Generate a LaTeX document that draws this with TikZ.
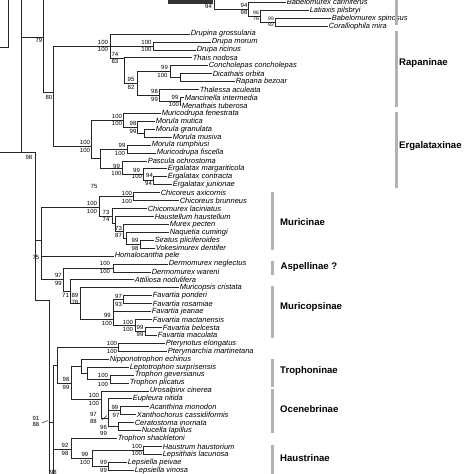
\documentclass[tikz,border=0pt]{standalone}
\usepackage{fontspec}
\setmainfont{Liberation Sans}
\begin{document}
\begin{tikzpicture}[x=1pt,y=-1pt,
  br/.style={draw=black!85,line width=0.75pt},
  tip/.style={anchor=west,inner sep=0.6pt,font=\fontsize{7.5}{8}\selectfont\itshape},
  bs/.style={inner sep=0pt,font=\fontsize{6}{6}\selectfont},
  cbar/.style={fill=black!30,draw=none},
  clade/.style={anchor=west,inner sep=0pt,font=\fontsize{9.6}{10}\selectfont\bfseries}]
\useasboundingbox (0,0) rectangle (474,474);
\fill[white] (0,0) rectangle (474,474);
% ---------- tips ----------
\node[tip] (bcar) at (286,2.2) {Babelomurex cariniferus};
\node[tip] (lpil) at (309,10.2) {Latiaxis pilsbryi};
\node[tip] (bspi) at (331,18.1) {Babelomurex spinosus};
\node[tip] (cmir) at (328,26.1) {Coralliophila mira};
\node[tip] (dgro) at (190,34.0) {Drupina grossularia};
\node[tip] (dmor) at (211,41.9) {Drupa morum};
\node[tip] (dric) at (196,49.9) {Drupa ricinus};
\node[tip] (tnod) at (192,57.8) {Thais nodosa};
\node[tip] (ccon) at (208,65.7) {Concholepas concholepas};
\node[tip] (dorb) at (212,73.7) {Dicathais orbita};
\node[tip] (rbez) at (235,81.6) {Rapana bezoar};
\node[tip] (tacu) at (199,89.5) {Thalessa aculeata};
\node[tip] (mint) at (184,97.4) {Mancinella intermedia};
\node[tip] (mtub) at (181,105.4) {Menathais tuberosa};
\node[tip] (mfen) at (161,113.3) {Muricodrupa fenestrata};
\node[tip] (mmut) at (155,121.2) {Morula mutica};
\node[tip] (mgra) at (155,129.2) {Morula granulata};
\node[tip] (mmus) at (172,137.1) {Morula musiva};
\node[tip] (mrum) at (151,145.0) {Morula rumphiusi};
\node[tip] (mfis) at (156,153.0) {Muricodrupa fiscella};
\node[tip] (poch) at (147,160.9) {Pascula ochrostoma};
\node[tip] (emar) at (167,168.8) {Ergalatax margariticola};
\node[tip] (econ) at (167,176.7) {Ergalatax contracta};
\node[tip] (ejun) at (172,184.7) {Ergalatax junionae};
\node[tip] (caxi) at (160,192.6) {Chicoreus axicornis};
\node[tip] (cbru) at (179,200.5) {Chicoreus brunneus};
\node[tip] (clac) at (147,208.5) {Chicomurex laciniatus};
\node[tip] (hhau) at (154,216.4) {Haustellum haustellum};
\node[tip] (mpec) at (169,224.3) {Murex pecten};
\node[tip] (ncum) at (169,232.3) {Naquetia cumingi};
\node[tip] (spli) at (154,240.2) {Siratus pliciferoides};
\node[tip] (vden) at (155,248.1) {Vokesimurex dentifer};
\node[tip] (hpel) at (114,256.0) {Homalocantha pele};
\node[tip] (dneg) at (168,264.0) {Dermomurex neglectus};
\node[tip] (dwar) at (151,271.9) {Dermomurex wareni};
\node[tip] (anod) at (134,279.8) {Attiliosa nodulifera};
\node[tip] (mcri) at (179,287.8) {Muricopsis cristata};
\node[tip] (fpon) at (152,295.7) {Favartia ponderi};
\node[tip] (fros) at (152,303.6) {Favartia rosamiae};
\node[tip] (fjea) at (151,311.6) {Favartia jeanae};
\node[tip] (fmac) at (152,319.5) {Favartia mactanensis};
\node[tip] (fbel) at (162,327.4) {Favartia belcesta};
\node[tip] (fmcl) at (157,335.3) {Favartia maculata};
\node[tip] (pelo) at (165,343.3) {Pterynotus elongatus};
\node[tip] (pmar) at (167,351.2) {Pterymarchia martinetana};
\node[tip] (nech) at (109,359.1) {Nipponotrophon echinus};
\node[tip] (lsur) at (129,367.1) {Leptotrophon surprisensis};
\node[tip] (tgev) at (134,375.0) {Trophon geversianus};
\node[tip] (tpli) at (129,382.9) {Trophon plicatus};
\node[tip] (ucin) at (149,390.9) {Urosalpinx cinerea};
\node[tip] (enit) at (132,398.8) {Eupleura nitida};
\node[tip] (amon) at (149,406.7) {Acanthina monodon};
\node[tip] (xcas) at (136,414.6) {Xanthochorus cassidiformis};
\node[tip] (cino) at (134,422.6) {Ceratostoma inornata};
\node[tip] (nlap) at (141,430.5) {Nucella lapillus};
\node[tip] (tsha) at (117,438.4) {Trophon shackletoni};
\node[tip] (hhst) at (162,446.4) {Haustrum haustorium};
\node[tip] (llac) at (162,454.3) {Lepsithais lacunosa};
\node[tip] (lpei) at (127,462.2) {Lepsiella peivae};
\node[tip] (lvin) at (134,470.2) {Lepsiella vinosa};
% ---------- Coralliophilinae (cut) ----------
\fill[black!80] (168,0) rectangle (213,3.5);
\coordinate (k248) at (248,9);
\coordinate (k260) at (260,16);
\coordinate (k275) at (275,22);
\draw[br] (214,0) |- (k248);
\draw[br] (k248) |- (bcar.west) (k248) |- (k260);
\draw[br] (k260) |- (lpil.west) (k260) |- (k275);
\draw[br] (k275) |- (bspi.west) (k275) |- (cmir.west);
% ---------- Rapaninae ----------
\coordinate (k110) at (110,46);
\coordinate (k153) at (153,46);
\coordinate (k124) at (124,58);
\coordinate (k137) at (137,83);
\coordinate (k170) at (170,71);
\coordinate (k180a) at (180,77.6);
\coordinate (k159) at (159,95);
\coordinate (k180b) at (180,101.4);
\draw[br] (k110) |- (dgro.west) (k110) -- (k153) (k110) |- (k124);
\draw[br] (k153) |- (dmor.west) (k153) |- (dric.west);
\draw[br] (k124) |- (tnod.west) (k124) |- (k137);
\draw[br] (k137) |- (k170) (k137) |- (k159);
\draw[br] (k170) |- (ccon.west) (k170) |- (k180a);
\draw[br] (k180a) |- (dorb.west) (k180a) |- (rbez.west);
\draw[br] (k159) |- (tacu.west) (k159) |- (k180b);
\draw[br] (k180b) |- (mint.west) (k180b) |- (mtub.west);
% ---------- Ergalataxinae ----------
\coordinate (k53) at (53,92);
\coordinate (k91) at (91,146);
\coordinate (k123) at (123,120);
\coordinate (k137e) at (137,127);
\coordinate (k144) at (144,133);
\coordinate (k100) at (100,158);
\coordinate (k127) at (127,149);
\coordinate (k122) at (122,168);
\coordinate (k143) at (143,174);
\coordinate (k153e) at (153,180.7);
\draw[br] (k53) |- (k110) (k53) |- (k91);
\draw[br] (k91) |- (k123) (k91) |- (k100);
\draw[br] (k123) |- (mfen.west) (k123) |- (k137e);
\draw[br] (k137e) |- (mmut.west) (k137e) |- (k144);
\draw[br] (k144) |- (mgra.west) (k144) |- (mmus.west);
\draw[br] (k100) |- (k127) (k100) |- (k122);
\draw[br] (k127) |- (mrum.west) (k127) |- (mfis.west);
\draw[br] (k122) |- (poch.west) (k122) |- (k143);
\draw[br] (k143) |- (emar.west) (k143) |- (k153e);
\draw[br] (k153e) |- (econ.west) (k153e) |- (ejun.west);
% ---------- Muricinae ----------
\coordinate (k99) at (99,207);
\coordinate (k133) at (133,196.5);
\coordinate (k112) at (112,216);
\coordinate (k115) at (115,223.7);
\coordinate (k123m) at (123,231);
\coordinate (k126) at (126,238);
\coordinate (k140) at (140,244);
\draw[br] (k99) |- (k133) (k99) |- (k112);
\draw[br] (k133) |- (caxi.west) (k133) |- (cbru.west);
\draw[br] (k112) |- (clac.west) (k112) |- (k115);
\draw[br] (k115) |- (hhau.west) (k115) |- (k123m);
\draw[br] (k123m) |- (mpec.west) (k123m) |- (k126);
\draw[br] (k126) |- (ncum.west) (k126) |- (k140);
\draw[br] (k140) |- (spli.west) (k140) |- (vden.west);
% ---------- Aspellinae / Muricopsinae ----------
\coordinate (k63) at (63,279);
\coordinate (k113d) at (113,268);
\coordinate (k70) at (70,291);
\coordinate (k80) at (80,303);
\coordinate (k113f) at (113,319);
\coordinate (k123f) at (123,299.7);
\coordinate (k135) at (135,325);
\coordinate (k145) at (145,331.4);
\draw[br] (k63) |- (k113d) (k63) |- (k70);
\draw[br] (k113d) |- (dneg.west) (k113d) |- (dwar.west);
\draw[br] (k70) |- (anod.west) (k70) |- (k80);
\draw[br] (k80) |- (mcri.west) (k80) |- (k113f);
\draw[br] (k113f) |- (k123f) (k113f) |- (fjea.west) (k113f) |- (k135);
\draw[br] (k123f) |- (fpon.west) (k123f) |- (fros.west);
\draw[br] (k135) |- (fmac.west) (k135) |- (k145);
\draw[br] (k145) |- (fbel.west) (k145) |- (fmcl.west);
% ---------- Pterynotus / Trophoninae / Ocenebrinae ----------
\coordinate (k57) at (57,365);
\coordinate (k118) at (118,347.3);
\coordinate (k71) at (71,383);
\coordinate (k81) at (81,366);
\coordinate (k87) at (87,373);
\coordinate (k110t) at (110,379);
\coordinate (k101) at (101,399);
\coordinate (k108) at (108,418);
\coordinate (k120) at (120,410.7);
\coordinate (k118c) at (118,426.6);
\draw[br] (k57) |- (k118) (k57) |- (k71);
\draw[br] (k118) |- (pelo.west) (k118) |- (pmar.west);
\draw[br] (k71) |- (k81) (k71) |- (k101);
\draw[br] (k81) |- (nech.west) (k81) |- (k87);
\draw[br] (k87) |- (lsur.west) (k87) |- (k110t);
\draw[br] (k110t) |- (tgev.west) (k110t) |- (tpli.west);
\draw[br] (k101) |- (ucin.west) (k101) |- (k108);
\draw[br] (k108) |- (enit.west) (k108) |- (k120) (k108) |- (k118c);
\draw[br] (k120) |- (amon.west) (k120) |- (xcas.west);
\draw[br] (k118c) |- (cino.west) (k118c) |- (nlap.west);
% ---------- Haustrinae ----------
\coordinate (k71h) at (71,449);
\coordinate (k92) at (92,458);
\coordinate (k143h) at (143,450.3);
\coordinate (k108h) at (108,466.2);
\draw[br] (k71h) |- (tsha.west) (k71h) |- (k92);
\draw[br] (k92) |- (k143h) (k92) |- (k108h);
\draw[br] (k143h) |- (hhst.west) (k143h) |- (llac.west);
\draw[br] (k108h) |- (lpei.west) (k108h) |- (lvin.west);
% ---------- backbone (left) ----------
\coordinate (k43) at (43,37);
\coordinate (k41) at (41,240);
\draw[br] (8,0) -- (8,47) -- (0,47);
\draw[br] (21,0) -- (21,152);
\draw[br] (0,152) -- (35,152) -- (35,300);
\draw[br] (21,37) -- (k43);
\draw[br] (43,0) -- (43,92) -- (k53);
\draw[br] (35,240) -- (k41);
\draw[br] (k41) |- (k99) (k41) |- (hpel.west) (k41) |- (k63);
\draw[br] (35,300) -- (49,300) -- (49,474);
\draw[br] (49,422) -- (53,422);
\draw[br] (53,365) -- (53,474);
\draw[br] (53,365) -- (k57);
\draw[br] (53,449) -- (k71h);
% ---------- support values ----------
\node[bs] at (39,40) {79};
\node[bs] at (49,97) {80};
\node[bs] at (29,157) {98};
\node[bs] at (36,257) {75};
\node[bs] at (36,418) {91};
\node[bs] at (36,424.5) {88};
\draw[black!85,line width=0.5pt] (42,423) -- (48,420.5);
\node[bs] at (53.5,472) {98};
\node[bs] at (208.5,6) {94};
\node[bs] at (244,5) {94};
\node[bs] at (244,12.5) {98};
\node[bs,font=\fontsize{5}{5}\selectfont] at (256,13) {96};
\node[bs,font=\fontsize{5}{5}\selectfont] at (256,19) {76};
\node[bs,font=\fontsize{5}{5}\selectfont] at (271,19) {99};
\node[bs,font=\fontsize{5}{5}\selectfont] at (271,24.5) {92};
\node[bs] at (103,42) {100};
\node[bs] at (103,49.5) {100};
\node[bs] at (146.5,42.5) {100};
\node[bs] at (146.5,49.5) {100};
\node[bs] at (115,54.5) {74};
\node[bs] at (115,61) {83};
\node[bs] at (131,79) {95};
\node[bs] at (131,87) {82};
\node[bs] at (164.5,67.5) {99};
\node[bs] at (162.5,75) {100};
\node[bs] at (154.5,91) {98};
\node[bs] at (154.5,99) {99};
\node[bs] at (175,97.5) {99};
\node[bs] at (174,104.5) {100};
\node[bs] at (85,142.5) {100};
\node[bs] at (85,150) {100};
\node[bs] at (117,116) {100};
\node[bs] at (117,123.5) {100};
\node[bs] at (133,123.5) {98};
\node[bs] at (133,131) {99};
\node[bs] at (122,145) {99};
\node[bs] at (120,153) {100};
\node[bs] at (94,186) {75};
\node[bs] at (116.5,166) {99};
\node[bs] at (116.5,173.5) {100};
\node[bs] at (136.5,170) {99};
\node[bs] at (137,176.5) {100};
\node[bs] at (149.5,175.5) {94};
\node[bs] at (148.5,183) {94};
\node[bs] at (127,193) {100};
\node[bs] at (127,201) {100};
\node[bs] at (92,203) {100};
\node[bs] at (92,211) {100};
\node[bs] at (106,212) {73};
\node[bs] at (106,219.5) {74};
\node[bs] at (118.5,228) {73};
\node[bs] at (118.5,235.5) {87};
\node[bs] at (135,240) {99};
\node[bs] at (135,248) {98};
\node[bs] at (105,263.5) {100};
\node[bs] at (105,271) {100};
\node[bs] at (58.5,275.5) {97};
\node[bs] at (58.5,283) {99};
\node[bs] at (65.5,295.5) {71};
\node[bs] at (75,295.5) {89};
\node[bs] at (75,302.5) {78};
\node[bs] at (118.5,296) {97};
\node[bs] at (118.5,304) {93};
\node[bs] at (107.5,315) {99};
\node[bs] at (107,323) {100};
\node[bs] at (128,322) {100};
\node[bs] at (128,329) {100};
\node[bs] at (140,327.5) {99};
\node[bs] at (140,334) {99};
\node[bs] at (112,343.5) {100};
\node[bs] at (112,351) {100};
\node[bs] at (66,379) {98};
\node[bs] at (66,387) {99};
\node[bs] at (103,375) {100};
\node[bs] at (103,384) {100};
\node[bs] at (94,395) {100};
\node[bs] at (94,403) {100};
\node[bs] at (93.5,414) {97};
\node[bs] at (93.5,421) {88};
\draw[black!85,line width=0.5pt] (102,420) -- (107,415.5);
\node[bs] at (115,407) {99};
\node[bs] at (116,415) {97};
\node[bs] at (103.5,427.5) {96};
\node[bs] at (103.5,433.5) {99};
\node[bs] at (65,445) {92};
\node[bs] at (65,453) {98};
\node[bs] at (85,454.5) {99};
\node[bs] at (85,462) {100};
\node[bs] at (137,446.5) {100};
\node[bs] at (137,453.5) {100};
\node[bs] at (103.5,462.5) {99};
\node[bs] at (103.5,470) {99};
% ---------- clade bars and labels ----------
\fill[cbar] (394.5,0) rectangle (397.5,25);
\fill[cbar] (394.5,31) rectangle (397.5,107);
\fill[cbar] (394.5,112) rectangle (397.5,188);
\fill[cbar] (270.5,192) rectangle (273.5,250);
\fill[cbar] (270.5,261) rectangle (273.5,275);
\fill[cbar] (270.5,286) rectangle (273.5,338);
\fill[cbar] (270.5,359) rectangle (273.5,387);
\fill[cbar] (270.5,389) rectangle (273.5,433);
\fill[cbar] (270.5,445) rectangle (273.5,474);
\node[clade] at (399,63.5) {Rapaninae};
\node[clade] at (399,146) {Ergalataxinae};
\node[clade] at (280,222) {Muricinae};
\node[clade] at (280.5,267.5) {Aspellinae ?};
\node[clade] at (280,307) {Muricopsinae};
\node[clade] at (280,371) {Trophoninae};
\node[clade] at (280,409) {Ocenebrinae};
\node[clade] at (280,458) {Haustrinae};
\end{tikzpicture}
\end{document}
